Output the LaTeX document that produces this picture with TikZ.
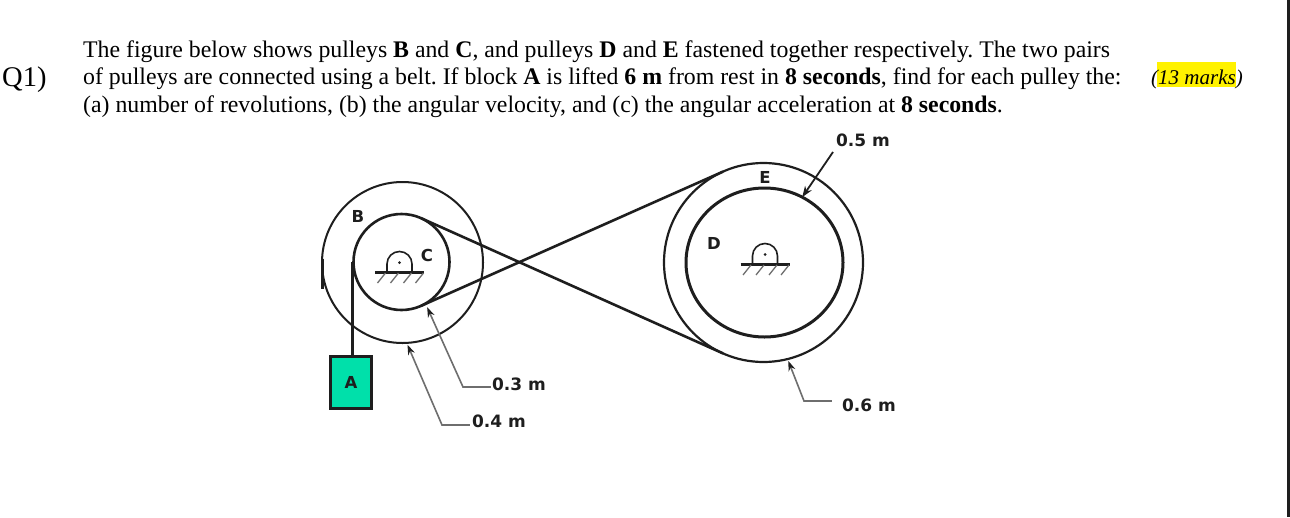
\documentclass[tikz,border=0pt]{standalone}
\usepackage{fontspec}
\setmainfont{Liberation Serif}
\newfontfamily\lblfont{DejaVu Sans}
\usetikzlibrary{arrows.meta,shapes.geometric}
\definecolor{ink}{HTML}{1E1E1E}
\definecolor{leadgray}{HTML}{6E6E6E}
\definecolor{teal}{HTML}{00E0AA}
\tikzset{
  x=1pt,y=-1pt,
  wheel/.style={circle,draw=ink,fill=none,inner sep=0pt,outer sep=0pt,minimum size=#1},
  bodytext/.style={anchor=base west,inner sep=0pt,font=\frenchspacing\fontsize{23.8}{28}\selectfont,text=black},
  partlabel/.style={inner sep=0pt,font=\lblfont\bfseries\fontsize{16.5}{18}\selectfont,text=ink},
  dimlabel/.style={inner sep=0pt,font=\lblfont\bfseries\fontsize{17}{19}\selectfont,text=ink},
  beltline/.style={draw=ink,line width=2.6pt},
  leader/.style={draw=leadgray,line width=1.6pt,-{Stealth[length=10pt,width=7pt,color=ink]}},
  pics/pivot/.style={code={
    \draw[ink,line width=1.6pt] (-12.5,0) -- (-12.5,-8) arc[start angle=180,end angle=360,radius=12.5] -- (12.5,0);
    \fill[ink] (0,-9.5) circle[radius=1.5];
    \draw[ink,line width=3pt] (-24.5,0) -- (24.5,0);
    \foreach \hx in {-14,-1,12,24}{\draw[leadgray,line width=1.3pt] (\hx,1) -- (\hx-8,11);}
  }}
}
\begin{document}
\begin{tikzpicture}
\useasboundingbox (0,0) rectangle (1290,517);
\fill[white] (0,0) rectangle (1290,517);
\fill[ink] (1287,0) rectangle (1290,517);
% text
\node[bodytext] (l1) at (83,57) {The figure below shows pulleys \textbf{B} and \textbf{C}, and pulleys \textbf{D} and \textbf{E} fastened together respectively. The two pairs};
\node[bodytext] (l2) at (83,84) {of pulleys are connected using a belt. If block \textbf{A} is lifted \textbf{6 m} from rest in \textbf{8 seconds}, find for each pulley the:};
\node[bodytext] (l3) at (83,112) {(a) number of revolutions, (b) the angular velocity, and (c) the angular acceleration at \textbf{8 seconds}.};
\node[bodytext,font=\fontsize{28.5}{30}\selectfont] (q) at (2,86) {Q1)};
\node[anchor=north west,fill=yellow,inner sep=0pt,minimum width=79pt,minimum height=25pt] (hl) at (1157,62) {};
\node[bodytext,font=\itshape\fontsize{21}{28}\selectfont] (marks) at (1151,84) {(13 marks)};
% pulleys
\node[wheel=161pt,line width=2pt] (B) at (402.5,262.5) {};
\node[wheel=96pt,line width=2.6pt] (C) at (401.5,262) {};
\node[wheel=199pt,line width=2.2pt] (E) at (763.5,262.5) {};
\node[ellipse,draw=ink,inner sep=0pt,outer sep=0pt,minimum width=157pt,minimum height=149pt,line width=3pt] (D) at (764.5,262.5) {};
\draw[ink,line width=3pt] (B.west) ++(0.5,-4) -- ++(0,30);
% belt
\draw[beltline] (C.66) -- (E.246);
\draw[beltline] (C.294) -- (E.114);
% pivots
\pic at (399.5,272) {pivot};
\pic at (765,264) {pivot};
% block
\node[draw=ink,fill=teal,line width=2.2pt,minimum width=41pt,minimum height=52pt,inner sep=0pt,outer sep=0pt] (Ablock) at (351,382.5) {};
\node[partlabel] (Atxt) at (Ablock.center) {A};
\draw[ink,line width=3pt] (C.west) ++(-1,0) -- +(0,94);
% part labels
\node[partlabel] (Btxt) at (358,216) {B};
\node[partlabel] (Ctxt) at (427,255) {C};
\node[partlabel] (Dtxt) at (714,243) {D};
\node[partlabel] (Etxt) at (765,177) {E};
% dimension labels
\node[dimlabel] (d3) at (519,384) {0.3 m};
\node[dimlabel] (d4) at (499,421) {0.4 m};
\node[dimlabel] (d5) at (863,140) {0.5 m};
\node[dimlabel] (d6) at (869,405) {0.6 m};
\draw[leader,shorten >=4pt] (d3.west) ++(-1,3) -- (463,387) -- (C.-60);
\draw[leader,shorten >=2pt] (d4.west) ++(-2,4) -- (442,425) -- (B.-87);
\draw[leader,shorten >=2pt] (d6.west) ++(-10,-4) -- (804,401) -- (E.-76);
\draw[ink,line width=1.8pt,-{Stealth[length=11pt,width=8pt]}] (833,152) -- (D.60);
\end{tikzpicture}
\end{document}
